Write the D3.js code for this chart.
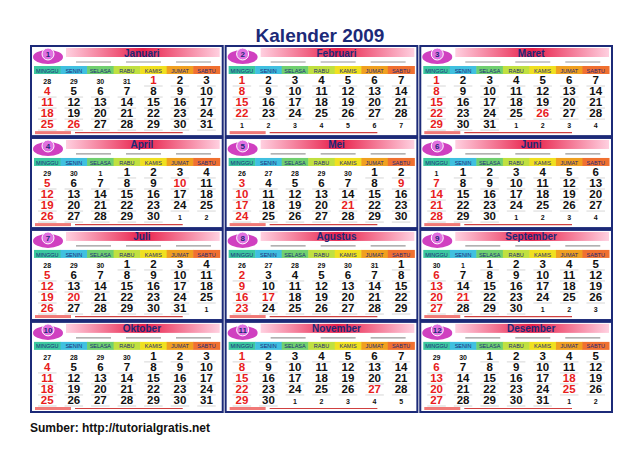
<!DOCTYPE html><html><head><meta charset="utf-8"><script src="https://cdn.jsdelivr.net/npm/d3@7"></script>
<style>body{margin:0;background:#fff}</style></head><body><svg id="c" width="638" height="451"></svg>
<script>
const months=["Januari","Februari","Maret","April","Mei","Juni","Juli","Agustus","September","Oktober","November","Desember"];
const dayNames=["MINGGU","SENIN","SELASA","RABU","KAMIS","JUMAT","SABTU"];
const dayColors=["#3cc8a0","#40c0e0","#70d070","#c0e040","#f0e020","#f0a020","#f07030"];
const holidays=[[1,26],[],[26],[10],[9,21],[],[20],[17],[20,21],[],[27],[18,25]];
const year=2009;
const svg=d3.select("#c");
svg.append("text").attr("x",320).attr("y",42).attr("text-anchor","middle").attr("font-family","Liberation Sans, Arial").attr("font-weight","bold").attr("font-size",19).attr("fill","#1c2a78").text("Kalender 2009");
svg.append("text").attr("x",30).attr("y",432).attr("font-family","Liberation Sans, Arial").attr("font-weight","bold").attr("font-size",12).attr("fill","#111").text("Sumber: http://tutorialgratis.net");
const cols=d3.scaleBand().domain([0,1,2]).range([31,612]).paddingInner(0.015);
const rows=d3.scaleBand().domain([0,1,2,3]).range([46,412]).paddingInner(0.02);
const defs=svg.append("defs");
const g1=defs.append("linearGradient").attr("id","tg");
g1.append("stop").attr("offset","0").attr("stop-color","#ffd0e0");
g1.append("stop").attr("offset","0.5").attr("stop-color","#e8204a");
g1.append("stop").attr("offset","1").attr("stop-color","#ffd0e0");
months.forEach((m,i)=>{
  const x0=cols(i%3),y0=rows(Math.floor(i/3)),w=cols.bandwidth(),h=rows.bandwidth();
  const g=svg.append("g").attr("transform",`translate(${x0},${y0})`);
  g.append("rect").attr("width",w).attr("height",h).attr("fill","#fff").attr("stroke","#1c2a78").attr("stroke-width",2);
  g.append("rect").attr("x",35).attr("y",2).attr("width",w-38).attr("height",9).attr("fill","url(#tg)");
  g.append("text").attr("x",w/2+15).attr("y",10.5).attr("text-anchor","middle").attr("font-family","Liberation Sans, Arial").attr("font-weight","bold").attr("font-size",10).attr("fill","#1c2a78").text(m);
  g.append("ellipse").attr("cx",17).attr("cy",11).attr("rx",15).attr("ry",7).attr("fill","#d040c0");
  g.append("circle").attr("cx",17).attr("cy",8).attr("r",6).attr("fill","#e070e0").attr("stroke","#fff");
  g.append("text").attr("x",17).attr("y",11).attr("text-anchor","middle").attr("font-family","Liberation Sans, Arial").attr("font-weight","bold").attr("font-size",8).attr("fill","#1c2a78").text(i+1);
  for(let k=0;k<3;k++) g.append("line").attr("x1",45+k*50).attr("x2",80+k*50).attr("y1",16).attr("y2",16).attr("stroke","#999").attr("stroke-width",1.2);
  const dx=d3.scaleBand().domain(d3.range(7)).range([3,w-3]);
  dayNames.forEach((d,j)=>{
    g.append("rect").attr("x",dx(j)).attr("y",20).attr("width",dx.bandwidth()+0.5).attr("height",8).attr("fill",dayColors[j]);
    g.append("text").attr("x",dx(j)+dx.bandwidth()/2).attr("y",26.6).attr("text-anchor","middle").attr("font-family","Liberation Sans, Arial").attr("font-size",5.5).attr("fill","#1c2a78").text(d);
  });
  const first=new Date(year,i,1).getDay(),ndays=new Date(year,i+1,0).getDate(),prevDays=new Date(year,i,0).getDate();
  const dy=d3.scaleBand().domain(d3.range(5)).range([29,h-6]);
  for(let c=0;c<35;c++){
    const r=Math.floor(c/7),j=c%7;let n=c-first+1,cur=true;
    if(n<1){n=prevDays+n;cur=false}
    if(n>ndays){n=n-ndays;cur=false}
    const red=cur&&(j===0||holidays[i].includes(n));
    const n2=c+35-first+1;
    const hasOv=cur&&n2<=ndays;
    g.append("text").attr("x",dx(j)+dx.bandwidth()/2-(hasOv?3:0)).attr("y",dy(r)+dy.bandwidth()*0.85).attr("text-anchor","middle").attr("font-family","Liberation Sans, Arial").attr("font-weight","bold").attr("font-size",cur?(hasOv?8:11.5):7).attr("fill",red?"#e8201c":"#111").text(n);
    if(hasOv){g.append("text").attr("x",dx(j)+dx.bandwidth()/2+5).attr("y",dy(r)+dy.bandwidth()*0.85).attr("text-anchor","middle").attr("font-family","Liberation Sans, Arial").attr("font-weight","bold").attr("font-size",6).attr("fill",j===0?"#e8201c":"#111").text("/"+n2);}
    if(cur){
      g.append("line").attr("x1",dx(j)+4).attr("x2",dx(j)+dx.bandwidth()-4).attr("y1",dy(r)+dy.bandwidth()).attr("y2",dy(r)+dy.bandwidth()).attr("stroke","#bbb").attr("stroke-width",0.6);
    }
  }
  g.append("rect").attr("x",4).attr("y",h-5).attr("width",36).attr("height",3).attr("fill","#e8201c").attr("opacity",0.6);
  g.append("line").attr("x1",44).attr("x2",w-40).attr("y1",h-3.5).attr("y2",h-3.5).attr("stroke","#d04040").attr("stroke-width",1.2);
});
</script></body></html>
